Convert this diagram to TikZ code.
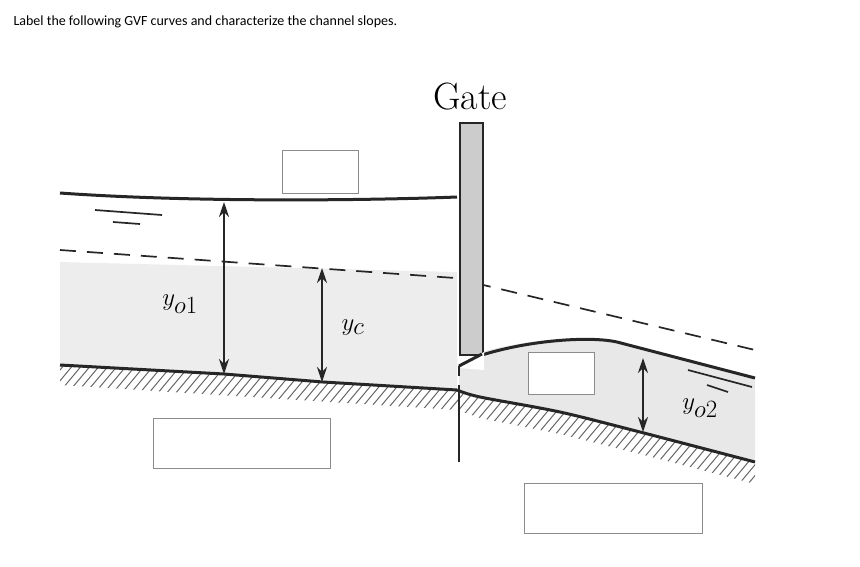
\documentclass[tikz,border=0pt]{standalone}
\usepackage{fontspec}
\newfontfamily\carl{Carlito}
\usetikzlibrary{arrows.meta}
\begin{document}
\begin{tikzpicture}[x=1pt,y=-1pt,
  line/.style={line width=3pt,black!85},
  thin/.style={line width=1.7pt,black!85},
  dim/.style={line width=1.8pt,black!85,{Stealth[length=15pt,width=10pt]}-{Stealth[length=15pt,width=10pt]}},
  ansbox/.style={draw=black!45,line width=0.9pt,fill=white},
  lab/.style={font=\fontsize{46}{46}\selectfont,inner sep=0pt}]
\useasboundingbox (0,0) rectangle (860,566);
\node[anchor=west,font=\carl\fontsize{14}{16}\selectfont] (title) at (10,22) {Label the following GVF curves and characterize the channel slopes.};
% water
\fill[black!7] (60,262) -- (457,272) -- (457,390) -- (323,382) -- (224,374) -- (60,365) -- cycle;
\fill[black!9] (482,352) .. controls (530,338) and (590,336) .. (617,342) -- (755,378) -- (755,462) -- (700,447) -- (640,432) -- (560,412) -- (480,397) -- (459,390) -- (459,366) -- cycle;
% hatching
\begin{scope}
\clip (60,365) -- (224,374) -- (323,382) -- (457,390) -- (480,397) -- (560,412) -- (640,432) -- (755,462) -- (755,484) -- (640,454) -- (560,434) -- (480,418) -- (457,410) -- (60,385) -- cycle;
\foreach \x in {-200,-191,...,810} \draw[black!60,line width=1pt] (\x,520) -- ++(150,-180);
\end{scope}
% bed
\draw[line] (60,365) -- (224,374) -- (323,382) -- (457,390);
\draw[line] plot[smooth] coordinates {(457,390) (480,397) (560,412) (640,432) (755,462)};
% surfaces
\draw[line] (60,193) .. controls (200,203) and (380,200) .. (457,197);
\draw[line] (482,355) .. controls (530,340) and (590,336) .. (617,342) -- (755,378);
% critical depth line
\draw[thin,dash pattern=on 16pt off 11pt] (60,250) -- (455,278);
\draw[thin,dash pattern=on 16pt off 11pt] (475,283) -- (755,350);
% gate
\node[draw=black!85,line width=2.4pt,fill=black!20,minimum width=23pt,minimum height=232pt,inner sep=0pt,anchor=north west] (gate) at (459,122) {};
\fill[white] (458,368) -- (484,352) -- (484,370) -- cycle;
\draw[line] (459,366) -- (482,354);
\draw[line width=2.4pt,black!85] (459,366) -- (459,376);
\draw[line width=2.4pt,black!85] (459,385) -- (459,462);
\node[font=\fontsize{38}{38}\selectfont,inner sep=0pt] (gatelabel) at (470,97) {Gate};
% dimension arrows
\coordinate (a1) at (224,202); \coordinate (b1) at (224,374);
\coordinate (a2) at (322,268); \coordinate (b2) at (322,382);
\coordinate (a3) at (643,358); \coordinate (b3) at (643,432);
\draw[dim] (a1) -- (b1);
\draw[dim] (a2) -- (b2);
\draw[dim] (a3) -- (b3);
\node[lab] (yo1) at (180,304) {$y_{o1}$};
\node[lab] (yc) at (353,328) {$y_c$};
\node[lab] (yo2) at (700,408) {$y_{o2}$};
% water symbols
\draw[thin] (95,210) -- (162,215);
\draw[thin] (113,222) -- (140,224);
\draw[thin] (688,370) -- (752,387);
\draw[thin] (707,385) -- (728,392);
% answer boxes
\node[ansbox,minimum width=76pt,minimum height=43pt,anchor=north west] (box1) at (282,150) {};
\node[ansbox,minimum width=177pt,minimum height=50pt,anchor=north west] (box2) at (153,418) {};
\node[ansbox,minimum width=66pt,minimum height=42pt,anchor=north west] (box3) at (528,352) {};
\node[ansbox,minimum width=178pt,minimum height=50pt,anchor=north west] (box4) at (524,483) {};
\end{tikzpicture}
\end{document}
